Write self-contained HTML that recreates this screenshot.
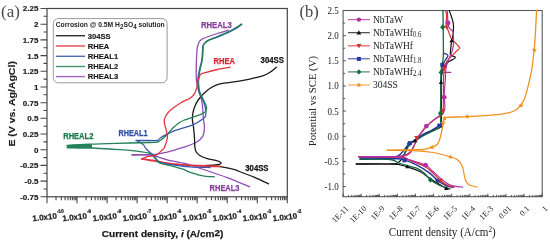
<!DOCTYPE html><html><head><meta charset="utf-8"><style>html,body{margin:0;padding:0;background:#fff;width:550px;height:242px;overflow:hidden}svg{display:block;filter:blur(0.3px)}</style></head><body>
<svg width="550" height="242" viewBox="0 0 550 242">
<rect width="550" height="242" fill="#fff"/>
<rect x="47.0" y="8.5" width="240.3" height="188.3" fill="none" stroke="#474747" stroke-width="1.2"/>
<path d="M40.5,8.5H47.0 M43.5,16.3H47.0 M40.5,24.2H47.0 M43.5,32.0H47.0 M40.5,39.9H47.0 M43.5,47.7H47.0 M40.5,55.6H47.0 M43.5,63.4H47.0 M40.5,71.3H47.0 M43.5,79.1H47.0 M40.5,87.0H47.0 M43.5,94.8H47.0 M40.5,102.7H47.0 M43.5,110.5H47.0 M40.5,118.3H47.0 M43.5,126.2H47.0 M40.5,134.0H47.0 M43.5,141.9H47.0 M40.5,149.7H47.0 M43.5,157.6H47.0 M40.5,165.4H47.0 M43.5,173.3H47.0 M40.5,181.1H47.0 M43.5,189.0H47.0 M40.5,196.8H47.0 M47.0,196.8V203.3 M56.0,196.8V200.3 M61.3,196.8V200.3 M65.1,196.8V200.3 M68.0,196.8V200.3 M70.4,196.8V200.3 M72.4,196.8V200.3 M74.1,196.8V200.3 M75.7,196.8V200.3 M77.0,196.8V203.3 M86.1,196.8V200.3 M91.4,196.8V200.3 M95.1,196.8V200.3 M98.0,196.8V200.3 M100.4,196.8V200.3 M102.4,196.8V200.3 M104.2,196.8V200.3 M105.7,196.8V200.3 M107.1,196.8V203.3 M116.1,196.8V200.3 M121.4,196.8V200.3 M125.2,196.8V200.3 M128.1,196.8V200.3 M130.4,196.8V200.3 M132.5,196.8V200.3 M134.2,196.8V200.3 M135.7,196.8V200.3 M137.1,196.8V203.3 M146.2,196.8V200.3 M151.4,196.8V200.3 M155.2,196.8V200.3 M158.1,196.8V200.3 M160.5,196.8V200.3 M162.5,196.8V200.3 M164.2,196.8V200.3 M165.8,196.8V200.3 M167.2,196.8V203.3 M176.2,196.8V200.3 M181.5,196.8V200.3 M185.2,196.8V200.3 M188.1,196.8V200.3 M190.5,196.8V200.3 M192.5,196.8V200.3 M194.3,196.8V200.3 M195.8,196.8V200.3 M197.2,196.8V203.3 M206.2,196.8V200.3 M211.5,196.8V200.3 M215.3,196.8V200.3 M218.2,196.8V200.3 M220.6,196.8V200.3 M222.6,196.8V200.3 M224.3,196.8V200.3 M225.9,196.8V200.3 M227.2,196.8V203.3 M236.3,196.8V200.3 M241.6,196.8V200.3 M245.3,196.8V200.3 M248.2,196.8V200.3 M250.6,196.8V200.3 M252.6,196.8V200.3 M254.4,196.8V200.3 M255.9,196.8V200.3 M257.3,196.8V203.3 M266.3,196.8V200.3 M271.6,196.8V200.3 M275.3,196.8V200.3 M278.3,196.8V200.3 M280.6,196.8V200.3 M282.6,196.8V200.3 M284.4,196.8V200.3 M285.9,196.8V200.3 M287.3,196.8V203.3" stroke="#474747" stroke-width="1.1" fill="none"/>
<g font-family="Liberation Sans, sans-serif" font-weight="bold" font-size="8" fill="#1e1e1e" stroke="#1e1e1e" stroke-width="0.18" text-anchor="end">
<text x="38.4" y="11.4">2.25</text>
<text x="38.4" y="27.1">2</text>
<text x="38.4" y="42.8">1.75</text>
<text x="38.4" y="58.5">1.5</text>
<text x="38.4" y="74.2">1.25</text>
<text x="38.4" y="89.9">1</text>
<text x="38.4" y="105.6">0.75</text>
<text x="38.4" y="121.2">0.5</text>
<text x="38.4" y="136.9">0.25</text>
<text x="38.4" y="152.6">0</text>
<text x="38.4" y="168.3">-0.25</text>
<text x="38.4" y="184.0">-0.5</text>
<text x="38.4" y="199.7">-0.75</text>
</g>
<g font-family="Liberation Sans, sans-serif" font-weight="bold" font-size="8" fill="#1e1e1e" stroke="#1e1e1e" stroke-width="0.25">
<text x="32.4" y="219.6" transform="rotate(-6.5 47.0 217)">1.0x10<tspan font-size="5" dx="0.4" dy="-5.2">-10</tspan></text>
<text x="62.4" y="219.6" transform="rotate(-6.5 77.0 217)">1.0x10<tspan font-size="5" dx="0.4" dy="-5.2">-9</tspan></text>
<text x="92.5" y="219.6" transform="rotate(-6.5 107.1 217)">1.0x10<tspan font-size="5" dx="0.4" dy="-5.2">-8</tspan></text>
<text x="122.5" y="219.6" transform="rotate(-6.5 137.1 217)">1.0x10<tspan font-size="5" dx="0.4" dy="-5.2">-7</tspan></text>
<text x="152.6" y="219.6" transform="rotate(-6.5 167.2 217)">1.0x10<tspan font-size="5" dx="0.4" dy="-5.2">-6</tspan></text>
<text x="182.6" y="219.6" transform="rotate(-6.5 197.2 217)">1.0x10<tspan font-size="5" dx="0.4" dy="-5.2">-5</tspan></text>
<text x="212.6" y="219.6" transform="rotate(-6.5 227.2 217)">1.0x10<tspan font-size="5" dx="0.4" dy="-5.2">-4</tspan></text>
<text x="242.7" y="219.6" transform="rotate(-6.5 257.3 217)">1.0x10<tspan font-size="5" dx="0.4" dy="-5.2">-3</tspan></text>
<text x="272.7" y="219.6" transform="rotate(-6.5 287.3 217)">1.0x10<tspan font-size="5" dx="0.4" dy="-5.2">-2</tspan></text>
</g>
<text font-family="Liberation Sans, sans-serif" font-weight="bold" font-size="8.8" fill="#1e1e1e" stroke="#1e1e1e" stroke-width="0.15" textLength="85.5" lengthAdjust="spacingAndGlyphs" transform="translate(14.6,146.6) rotate(-90)">E (V vs. Ag/AgCl)</text>
<text font-family="Liberation Sans, sans-serif" font-weight="bold" font-size="9.7" fill="#1a1a1a" stroke="#1a1a1a" stroke-width="0.25" x="101.8" y="236.8" textLength="121.5" lengthAdjust="spacingAndGlyphs">Current density, <tspan font-style="italic">i</tspan> (A/cm<tspan font-size="9.5" dy="-0.8">2</tspan><tspan dy="0.8">)</tspan></text>
<text font-family="Liberation Serif, serif" font-size="17" fill="#4a4a4a" x="1" y="17.3">(a)</text>
<rect x="53.3" y="18.6" width="113.8" height="64.2" rx="5" ry="5" fill="#fff" stroke="#9a9a9a" stroke-width="1"/>
<text font-family="Liberation Sans, sans-serif" font-weight="bold" font-size="7.1" fill="#222" x="55.7" y="27.4" textLength="109" lengthAdjust="spacingAndGlyphs">Corrosion @ 0.5M H<tspan font-size="6.5" dy="1.5">2</tspan><tspan dy="-1.5">SO</tspan><tspan font-size="6.5" dy="1.5">4</tspan><tspan dy="-1.5"> solution</tspan></text>
<path d="M55.8,35.7H85" stroke="#1a1a1a" stroke-width="1.4" opacity="0.9"/>
<text font-family="Liberation Sans, sans-serif" font-weight="bold" font-size="7.6" fill="#1a1a1a" stroke="#1a1a1a" stroke-width="0.15" x="87.8" y="38.5">304SS</text>
<path d="M55.8,46.0H85" stroke="#e4323d" stroke-width="1.4" opacity="0.9"/>
<text font-family="Liberation Sans, sans-serif" font-weight="bold" font-size="7.6" fill="#1a1a1a" stroke="#1a1a1a" stroke-width="0.15" x="87.8" y="48.8">RHEA</text>
<path d="M55.8,56.3H85" stroke="#3c5db4" stroke-width="1.4" opacity="0.9"/>
<text font-family="Liberation Sans, sans-serif" font-weight="bold" font-size="7.6" fill="#1a1a1a" stroke="#1a1a1a" stroke-width="0.15" x="87.8" y="59.1">RHEAL1</text>
<path d="M55.8,66.5H85" stroke="#2a8a5c" stroke-width="1.4" opacity="0.9"/>
<text font-family="Liberation Sans, sans-serif" font-weight="bold" font-size="7.6" fill="#1a1a1a" stroke="#1a1a1a" stroke-width="0.15" x="87.8" y="69.3">RHEAL2</text>
<path d="M55.8,76.6H85" stroke="#9a55bd" stroke-width="1.4" opacity="0.9"/>
<text font-family="Liberation Sans, sans-serif" font-weight="bold" font-size="7.6" fill="#1a1a1a" stroke="#1a1a1a" stroke-width="0.15" x="87.8" y="79.4">RHEAL3</text>
<path d="M228.2,30.2 C226.4,30.8 221.2,32.2 217.3,33.5 C213.4,34.8 207.4,36.8 204.5,38.0 C201.6,39.2 201.1,39.6 200.0,40.7 C198.9,41.8 198.7,43.2 198.2,44.4 C197.7,45.6 197.4,46.2 197.2,48.0 C196.9,49.8 196.8,52.7 196.7,55.0 C196.6,57.3 196.5,58.8 196.4,61.8 C196.3,64.8 196.2,69.3 196.2,72.7 C196.2,76.1 196.2,79.0 196.6,82.0 C197.0,85.0 198.0,88.0 198.8,91.0 C199.6,94.0 200.9,96.8 201.6,100.0 C202.3,103.2 202.5,106.6 202.8,109.9 C203.1,113.2 203.2,117.3 203.5,119.8 C203.8,122.3 204.2,123.3 204.3,125.0 C204.4,126.7 204.6,128.1 204.3,130.0 C204.0,131.9 203.9,134.4 202.7,136.4 C201.5,138.4 200.0,140.1 197.3,141.8 C194.6,143.5 190.4,145.0 186.4,146.4 C182.4,147.8 177.8,149.1 173.6,150.3 C169.3,151.5 164.8,152.7 160.9,153.4 C157.0,154.2 154.8,154.6 150.0,154.8 C145.2,155.0 134.9,154.8 131.9,154.8" fill="none" stroke="#8f4cb5" stroke-width="1.3" stroke-linejoin="round" stroke-linecap="round"/>
<path d="M131.9,154.8 C135.1,154.9 145.1,154.3 151.0,155.2 C156.9,156.0 161.0,158.4 167.2,159.9 C173.4,161.4 182.9,163.0 188.2,164.3 C193.5,165.7 192.6,165.8 199.0,168.0 C205.4,170.2 218.0,174.2 226.4,177.3 C234.8,180.4 245.8,185.2 249.7,186.8" fill="none" stroke="#8f4cb5" stroke-width="1.3" stroke-linejoin="round" stroke-linecap="round"/>
<path d="M276.4,67.2 C275.3,68.0 272.3,70.8 270.0,72.3 C267.7,73.8 265.4,74.9 262.7,75.9 C260.0,76.9 256.6,77.5 253.6,78.2 C250.6,78.9 247.5,79.6 244.5,80.2 C241.5,80.8 238.5,81.2 235.5,81.6 C232.5,82.0 229.2,82.4 226.4,82.8 C223.7,83.2 221.4,83.3 219.0,84.1 C216.6,84.8 214.2,85.9 211.8,87.3 C209.4,88.7 206.8,90.6 204.5,92.7 C202.2,94.8 199.9,97.6 198.2,100.0 C196.5,102.4 195.4,104.9 194.5,107.3 C193.6,109.7 193.0,112.4 192.7,114.5 C192.3,116.6 192.3,117.9 192.4,120.0 C192.5,122.1 193.2,124.3 193.5,127.3 C193.8,130.3 194.3,134.8 194.5,138.2 C194.7,141.5 194.6,145.1 194.9,147.4 C195.2,149.7 195.3,150.5 196.1,151.8 C196.9,153.2 197.9,154.4 199.8,155.5 C201.7,156.6 204.6,157.8 207.3,158.6 C210.0,159.4 213.6,159.7 215.9,160.4 C218.2,161.1 220.3,161.9 220.9,162.6 C221.5,163.3 220.8,164.0 219.3,164.4 C217.8,164.8 214.2,165.0 212.0,165.2 C209.8,165.4 207.0,165.4 206.0,165.5" fill="none" stroke="#1a1a1a" stroke-width="1.3" stroke-linejoin="round" stroke-linecap="round"/>
<path d="M206.0,165.6 C207.9,165.7 213.7,165.8 217.2,166.2 C220.7,166.6 224.2,167.3 227.1,167.9 C230.0,168.5 231.8,168.8 234.5,169.7 C237.2,170.5 239.8,171.7 243.2,173.0 C246.6,174.3 250.5,175.6 254.7,177.4 C258.9,179.2 266.2,182.8 268.5,183.9" fill="none" stroke="#1a1a1a" stroke-width="1.3" stroke-linejoin="round" stroke-linecap="round"/>
<path d="M141.8,158.9 C143.2,159.1 147.3,159.8 150.0,160.2 C152.7,160.6 155.4,160.9 157.9,161.4 C160.4,161.9 162.6,162.6 165.0,163.0 C167.4,163.4 169.8,163.6 172.3,163.9 C174.8,164.2 177.1,164.3 180.0,164.6 C182.9,164.8 185.8,165.2 190.0,165.4 C194.2,165.6 200.1,165.8 205.0,166.0 C209.9,166.2 217.2,166.3 219.7,166.4" fill="none" stroke="#e4323d" stroke-width="1.9" stroke-linejoin="round" stroke-linecap="round"/>
<path d="M241.8,24.4 C241.1,24.9 239.3,26.4 237.3,27.6 C235.3,28.8 233.3,30.0 230.0,31.6 C226.7,33.2 220.9,35.6 217.3,37.1 C213.7,38.6 210.5,39.5 208.2,40.7 C205.9,41.9 204.5,43.3 203.6,44.4 C202.7,45.5 202.9,45.9 202.7,47.3 C202.5,48.7 202.6,50.6 202.4,52.7 C202.2,54.8 202.2,57.6 201.8,60.0 C201.4,62.4 200.6,64.6 200.0,67.3 C199.4,70.0 198.6,73.6 198.2,76.4 C197.8,79.2 197.7,81.4 197.8,84.0 C197.9,86.6 198.2,89.3 199.0,92.0 C199.8,94.7 201.8,97.4 202.8,100.0 C203.9,102.6 204.8,105.1 205.3,107.4 C205.8,109.7 206.0,111.9 205.9,113.6 C205.8,115.2 205.7,116.1 204.7,117.3 C203.7,118.5 201.6,119.8 199.7,121.0 C197.8,122.2 196.3,123.5 193.5,124.7 C190.7,125.9 186.3,127.0 182.7,128.2 C179.1,129.4 175.1,130.4 171.8,131.8 C168.5,133.2 165.0,135.1 162.7,136.4 C160.4,137.7 159.1,139.1 158.2,139.8 C157.2,140.5 159.2,140.4 157.0,140.5 C154.8,140.6 148.5,140.5 145.0,140.5 C141.5,140.5 137.6,140.5 136.1,140.5" fill="none" stroke="#3a58b0" stroke-width="1.3" stroke-linejoin="round" stroke-linecap="round"/>
<path d="M136.1,140.5 C136.5,140.7 137.4,140.7 138.6,141.4 C139.8,142.1 142.3,143.7 143.5,144.9 C144.7,146.1 145.0,147.4 146.0,148.6 C147.0,149.8 148.4,151.2 149.7,152.3 C150.9,153.4 152.3,153.8 153.5,155.0 C154.7,156.2 155.6,158.1 156.6,159.3 C157.6,160.5 158.1,161.3 159.5,162.0 C160.9,162.7 163.1,163.2 165.0,163.6 C166.9,164.0 168.2,164.3 170.7,164.7 C173.2,165.1 176.8,165.5 180.0,165.8 C183.2,166.2 185.0,166.5 190.0,166.8 C195.0,167.1 206.7,167.4 210.0,167.5" fill="none" stroke="#3a58b0" stroke-width="1.3" stroke-linejoin="round" stroke-linecap="round"/>
<path d="M241.4,24.0 C240.7,24.5 238.8,25.8 236.9,27.0 C235.0,28.2 233.1,29.4 229.8,31.0 C226.5,32.6 220.9,35.0 217.3,36.5 C213.7,38.0 210.6,38.9 208.4,40.1 C206.2,41.3 205.0,42.8 204.1,43.9 C203.2,45.0 203.4,45.5 203.2,47.0 C203.0,48.5 203.1,50.5 202.9,52.7 C202.8,54.9 202.7,57.6 202.3,60.0 C201.9,62.4 201.2,64.6 200.6,67.3 C200.0,70.0 199.2,73.6 198.9,76.4 C198.6,79.2 198.4,81.4 198.6,84.0 C198.8,86.6 199.0,89.3 199.8,92.0 C200.6,94.7 202.5,97.8 203.5,100.0 C204.5,102.2 205.4,103.5 205.9,104.9 C206.4,106.3 206.8,107.4 206.6,108.6 C206.4,109.8 205.8,111.3 204.7,112.3 C203.5,113.3 201.8,114.0 199.7,114.8 C197.6,115.6 194.8,116.5 192.3,117.3 C189.8,118.1 187.1,118.9 184.9,119.8 C182.7,120.7 181.1,121.3 179.1,122.7 C177.1,124.1 174.7,126.2 172.7,128.2 C170.7,130.2 169.3,132.5 167.3,134.5 C165.3,136.5 162.6,138.7 160.9,140.0 C159.2,141.3 159.0,141.8 157.2,142.2 C155.4,142.6 154.5,142.4 150.0,142.5 C145.5,142.6 138.3,142.8 130.0,143.0 C121.7,143.2 106.7,143.6 100.0,143.8 C93.3,144.0 93.7,144.0 90.0,144.2 C86.3,144.4 81.8,144.6 78.0,144.8 C74.2,145.0 68.8,145.3 67.0,145.4" fill="none" stroke="#24825a" stroke-width="1.3" stroke-linejoin="round" stroke-linecap="round"/>
<path d="M67.0,147.6 C69.2,147.6 75.8,147.7 80.0,147.8 C84.2,147.9 87.0,147.8 92.0,148.0 C97.0,148.2 103.7,148.6 110.0,149.0 C116.3,149.4 123.6,149.7 130.0,150.4 C136.4,151.1 144.6,152.0 148.6,153.1 C152.6,154.2 152.4,155.5 154.0,157.0 C155.6,158.5 156.6,161.0 158.3,162.2 C160.0,163.4 161.9,163.6 164.0,164.2 C166.1,164.8 168.7,165.2 170.7,165.7 C172.7,166.2 173.9,166.6 176.0,167.2 C178.1,167.8 180.8,168.4 183.0,169.2 C185.2,170.0 187.1,171.3 189.5,172.2 C191.9,173.1 194.8,173.8 197.3,174.5 C199.8,175.2 201.6,175.8 204.5,176.2 C207.4,176.6 212.8,176.7 214.5,176.8" fill="none" stroke="#24825a" stroke-width="1.3" stroke-linejoin="round" stroke-linecap="round"/>
<path d="M230.0,67.2 C227.9,67.6 221.2,68.7 217.3,69.5 C213.4,70.3 209.1,71.5 206.4,72.3 C203.7,73.1 202.1,73.2 200.9,74.1 C199.7,75.0 199.6,76.4 199.0,77.7 C198.4,79.0 197.9,80.4 197.6,82.0 C197.2,83.6 197.4,85.4 196.9,87.3 C196.4,89.2 195.7,91.8 194.5,93.6 C193.3,95.4 192.3,96.7 190.0,98.2 C187.7,99.7 183.8,101.0 180.9,102.7 C178.0,104.4 174.8,106.8 172.5,108.6 C170.2,110.4 168.6,111.8 167.3,113.6 C166.0,115.3 165.0,117.4 164.5,119.1 C164.0,120.8 164.2,121.6 164.5,123.6 C164.8,125.6 165.9,128.5 166.4,130.9 C166.9,133.3 167.6,135.5 167.3,138.2 C167.0,140.9 165.4,145.2 164.5,147.3 C163.6,149.4 162.6,149.5 161.6,150.5 C160.6,151.5 159.6,152.7 158.5,153.5 C157.4,154.3 156.7,155.1 154.8,155.6 C152.9,156.1 149.5,156.0 147.3,156.6 C145.1,157.2 142.7,158.5 141.8,158.9" fill="none" stroke="#e4323d" stroke-width="1.3" stroke-linejoin="round" stroke-linecap="round"/>
<path d="M67,145.2 L78,144.3 L90,144.0 L92,145 L92,148.2 L80,148.4 L67,148.2 Z" fill="#24825a"/>
<text font-family="Liberation Sans, sans-serif" font-weight="bold" font-size="8.3" fill="#873f9f" stroke="#873f9f" stroke-width="0.25" x="200.9" y="27.7" textLength="30.8" lengthAdjust="spacingAndGlyphs">RHEAL3</text>
<text font-family="Liberation Sans, sans-serif" font-weight="bold" font-size="8.3" fill="#dc2833" stroke="#dc2833" stroke-width="0.25" x="213.5" y="64.4" textLength="21.5" lengthAdjust="spacingAndGlyphs">RHEA</text>
<text font-family="Liberation Sans, sans-serif" font-weight="bold" font-size="8.3" fill="#141414" stroke="#141414" stroke-width="0.25" x="260.6" y="62.9" textLength="23.3" lengthAdjust="spacingAndGlyphs">304SS</text>
<text font-family="Liberation Sans, sans-serif" font-weight="bold" font-size="8.3" fill="#1d7649" stroke="#1d7649" stroke-width="0.25" x="63.2" y="139.0" textLength="30.2" lengthAdjust="spacingAndGlyphs">RHEAL2</text>
<text font-family="Liberation Sans, sans-serif" font-weight="bold" font-size="8.3" fill="#2c4cab" stroke="#2c4cab" stroke-width="0.25" x="118.5" y="136.1" textLength="29.1" lengthAdjust="spacingAndGlyphs">RHEAL1</text>
<text font-family="Liberation Sans, sans-serif" font-weight="bold" font-size="8.3" fill="#141414" stroke="#141414" stroke-width="0.25" x="245.3" y="171.2" textLength="23.2" lengthAdjust="spacingAndGlyphs">304SS</text>
<text font-family="Liberation Sans, sans-serif" font-weight="bold" font-size="8.3" fill="#873f9f" stroke="#873f9f" stroke-width="0.25" x="209.6" y="191.2" textLength="29.9" lengthAdjust="spacingAndGlyphs">RHEAL3</text>
<rect x="343.1" y="10.5" width="199.1" height="186.2" fill="none" stroke="#5a5a5a" stroke-width="1.1"/>
<path d="M343.1,23.1H345.1 M343.1,35.7H345.9 M343.1,48.2H345.1 M343.1,60.8H345.9 M343.1,73.4H345.1 M343.1,86.0H345.9 M343.1,98.6H345.1 M343.1,111.1H345.9 M343.1,123.7H345.1 M343.1,136.3H345.9 M343.1,148.9H345.1 M343.1,161.5H345.9 M343.1,174.1H345.1 M343.1,186.6H345.9 M343.1,196.7V193.7 M348.5,196.7V194.9 M351.7,196.7V194.9 M354.0,196.7V194.9 M355.8,196.7V194.9 M357.2,196.7V194.9 M358.4,196.7V194.9 M359.4,196.7V194.9 M360.4,196.7V194.9 M361.2,196.7V193.7 M366.6,196.7V194.9 M369.8,196.7V194.9 M372.1,196.7V194.9 M373.9,196.7V194.9 M375.3,196.7V194.9 M376.5,196.7V194.9 M377.5,196.7V194.9 M378.5,196.7V194.9 M379.3,196.7V193.7 M384.7,196.7V194.9 M387.9,196.7V194.9 M390.2,196.7V194.9 M392.0,196.7V194.9 M393.4,196.7V194.9 M394.6,196.7V194.9 M395.6,196.7V194.9 M396.6,196.7V194.9 M397.4,196.7V193.7 M402.8,196.7V194.9 M406.0,196.7V194.9 M408.3,196.7V194.9 M410.1,196.7V194.9 M411.5,196.7V194.9 M412.7,196.7V194.9 M413.7,196.7V194.9 M414.7,196.7V194.9 M415.5,196.7V193.7 M420.9,196.7V194.9 M424.1,196.7V194.9 M426.4,196.7V194.9 M428.2,196.7V194.9 M429.6,196.7V194.9 M430.8,196.7V194.9 M431.8,196.7V194.9 M432.8,196.7V194.9 M433.6,196.7V193.7 M439.0,196.7V194.9 M442.2,196.7V194.9 M444.5,196.7V194.9 M446.3,196.7V194.9 M447.7,196.7V194.9 M448.9,196.7V194.9 M449.9,196.7V194.9 M450.9,196.7V194.9 M451.7,196.7V193.7 M457.1,196.7V194.9 M460.3,196.7V194.9 M462.6,196.7V194.9 M464.4,196.7V194.9 M465.8,196.7V194.9 M467.0,196.7V194.9 M468.0,196.7V194.9 M469.0,196.7V194.9 M469.8,196.7V193.7 M475.2,196.7V194.9 M478.4,196.7V194.9 M480.7,196.7V194.9 M482.5,196.7V194.9 M483.9,196.7V194.9 M485.1,196.7V194.9 M486.1,196.7V194.9 M487.1,196.7V194.9 M487.9,196.7V193.7 M493.3,196.7V194.9 M496.5,196.7V194.9 M498.8,196.7V194.9 M500.6,196.7V194.9 M502.0,196.7V194.9 M503.2,196.7V194.9 M504.2,196.7V194.9 M505.2,196.7V194.9 M506.0,196.7V193.7 M511.4,196.7V194.9 M514.6,196.7V194.9 M516.9,196.7V194.9 M518.7,196.7V194.9 M520.1,196.7V194.9 M521.3,196.7V194.9 M522.3,196.7V194.9 M523.3,196.7V194.9 M524.1,196.7V193.7 M529.5,196.7V194.9 M532.7,196.7V194.9 M535.0,196.7V194.9 M536.8,196.7V194.9 M538.2,196.7V194.9 M539.4,196.7V194.9 M540.4,196.7V194.9 M541.4,196.7V194.9 M542.2,196.7V193.7" stroke="#444" stroke-width="0.9" fill="none"/>
<g font-family="Liberation Serif, serif" font-size="10" fill="#222" text-anchor="end">
<text transform="translate(338.8,13.9) scale(0.9,1)">2.5</text>
<text transform="translate(338.8,39.1) scale(0.9,1)">2.0</text>
<text transform="translate(338.8,64.2) scale(0.9,1)">1.5</text>
<text transform="translate(338.8,89.4) scale(0.9,1)">1.0</text>
<text transform="translate(338.8,114.5) scale(0.9,1)">0.5</text>
<text transform="translate(338.8,139.7) scale(0.9,1)">0.0</text>
<text transform="translate(338.8,164.9) scale(0.9,1)">-0.5</text>
<text transform="translate(338.8,190.0) scale(0.9,1)">-1.0</text>
</g>
<g font-family="Liberation Serif, serif" font-size="8.2" fill="#222" text-anchor="end">
<text transform="translate(347.1,207.3) rotate(-45)" x="0" y="2.6">1E-11</text>
<text transform="translate(365.2,207.3) rotate(-45)" x="0" y="2.6">1E-10</text>
<text transform="translate(383.3,207.3) rotate(-45)" x="0" y="2.6">1E-9</text>
<text transform="translate(401.4,207.3) rotate(-45)" x="0" y="2.6">1E-8</text>
<text transform="translate(419.5,207.3) rotate(-45)" x="0" y="2.6">1E-7</text>
<text transform="translate(437.6,207.3) rotate(-45)" x="0" y="2.6">1E-6</text>
<text transform="translate(455.7,207.3) rotate(-45)" x="0" y="2.6">1E-5</text>
<text transform="translate(473.8,207.3) rotate(-45)" x="0" y="2.6">1E-4</text>
<text transform="translate(491.9,207.3) rotate(-45)" x="0" y="2.6">1E-3</text>
<text transform="translate(510.0,207.3) rotate(-45)" x="0" y="2.6">0.01</text>
<text transform="translate(528.1,207.3) rotate(-45)" x="0" y="2.6">0.1</text>
<text transform="translate(546.2,207.3) rotate(-45)" x="0" y="2.6">1</text>
</g>
<text font-family="Liberation Serif, serif" font-size="11" fill="#222" textLength="90.2" lengthAdjust="spacingAndGlyphs" transform="translate(316.3,146.2) rotate(-90)">Potential vs SCE (V)</text>
<text font-family="Liberation Serif, serif" font-size="11.5" fill="#222" x="388.8" y="236.3" textLength="107" lengthAdjust="spacingAndGlyphs">Current density (A/cm<tspan font-size="7.5" dy="-4">2</tspan><tspan dy="4">)</tspan></text>
<text font-family="Liberation Serif, serif" font-size="16.5" fill="#444" x="299.5" y="16.6">(b)</text>
<path d="M348,19.6H369.8" stroke="#b4309e" stroke-width="1.1" opacity="0.85"/>
<circle cx="358.9" cy="19.6" r="2.2" fill="#b4309e"/>
<text font-family="Liberation Serif, serif" font-size="10.7" fill="#222" transform="translate(373.0,23.0) scale(0.89,1)">NbTaW</text>
<path d="M348,32.7H369.8" stroke="#111" stroke-width="1.1" opacity="0.85"/>
<path d="M358.9,30.3L361.3,34.4L356.5,34.4Z" fill="#111"/>
<text font-family="Liberation Serif, serif" font-size="10.7" fill="#222" transform="translate(373.0,36.1) scale(0.89,1)">NbTaWHf<tspan font-size="7.6" dy="0.8">0.6</tspan></text>
<path d="M348,45.8H369.8" stroke="#de2c2c" stroke-width="1.1" opacity="0.85"/>
<path d="M358.9,48.2L361.3,44.0L356.5,44.0Z" fill="#de2c2c"/>
<text font-family="Liberation Serif, serif" font-size="10.7" fill="#222" transform="translate(373.0,49.2) scale(0.89,1)">NbTaWHf</text>
<path d="M348,58.8H369.8" stroke="#24399c" stroke-width="1.1" opacity="0.85"/>
<rect x="356.9" y="56.9" width="4.0" height="4.0" fill="#24399c"/>
<text font-family="Liberation Serif, serif" font-size="10.7" fill="#222" transform="translate(373.0,62.2) scale(0.89,1)">NbTaWHf<tspan font-size="7.6" dy="0.8">1.8</tspan></text>
<path d="M348,71.9H369.8" stroke="#146a3e" stroke-width="1.1" opacity="0.85"/>
<path d="M358.9,69.3L361.3,71.9L358.9,74.6L356.5,71.9Z" fill="#146a3e"/>
<text font-family="Liberation Serif, serif" font-size="10.7" fill="#222" transform="translate(373.0,75.3) scale(0.89,1)">NbTaWHf<tspan font-size="7.6" dy="0.8">2.4</tspan></text>
<path d="M348,85.0H369.8" stroke="#f0901e" stroke-width="1.1" opacity="0.85"/>
<path d="M358.9,82.2 L359.6,84.0 L361.5,84.2 L360.1,85.4 L360.5,87.2 L358.9,86.2 L357.3,87.2 L357.7,85.4 L356.3,84.2 L358.2,84.0Z" fill="#f0901e"/>
<text font-family="Liberation Serif, serif" font-size="10.7" fill="#222" transform="translate(373.0,88.4) scale(0.89,1)">304SS</text>
<path d="M443.6,53.3 C444.1,53.4 446.0,53.7 446.7,54.2 C447.4,54.7 448.2,55.2 448.0,56.1 C447.8,57.0 446.3,58.4 445.5,59.8 C444.7,61.1 443.6,62.5 443.0,64.2 C442.4,65.9 442.1,67.4 441.8,70.0 C441.5,72.6 441.5,75.8 441.4,80.0 C441.3,84.2 441.3,90.0 441.3,95.0 C441.3,100.0 441.2,105.5 441.2,110.0 C441.2,114.5 441.5,119.6 441.4,122.0 C441.3,124.4 440.9,124.2 440.8,124.6" fill="none" stroke="#24399c" stroke-width="1.3" stroke-linejoin="round" stroke-linecap="round"/>
<path d="M449.2,10.5 C449.5,11.3 450.4,13.6 451.0,15.4 C451.6,17.2 452.5,19.7 452.9,21.6 C453.3,23.5 453.5,24.4 453.5,26.6 C453.5,28.8 453.3,32.7 453.0,35.0 C452.7,37.3 452.0,38.5 451.6,40.6 C451.2,42.7 451.1,45.4 450.9,47.4 C450.7,49.4 450.4,51.1 450.4,52.4 C450.3,53.7 449.8,54.2 450.6,55.0 C451.4,55.8 455.1,56.5 455.4,57.3 C455.7,58.1 453.4,59.1 452.3,59.8 C451.2,60.5 449.6,60.9 448.6,61.7 C447.6,62.5 447.2,63.1 446.1,64.8 C445.0,66.5 443.1,69.1 442.2,72.0 C441.3,74.9 441.2,78.5 441.0,82.3 C440.8,86.1 441.2,91.2 441.2,95.0 C441.2,98.8 441.1,102.0 441.0,105.0 C440.9,108.0 440.8,110.3 440.8,112.8 C440.8,115.3 440.9,117.7 441.0,120.0 C441.1,122.3 442.9,124.8 441.4,126.5 C439.9,128.2 435.4,129.1 432.2,130.5 C429.0,131.9 425.2,133.5 422.3,135.2 C419.4,136.9 417.1,139.1 414.9,140.6 C412.7,142.1 410.7,143.0 409.3,144.4 C407.9,145.8 407.2,147.4 406.3,149.2 C405.4,151.0 404.9,153.2 404.0,155.0 C403.1,156.8 402.1,158.7 401.0,160.0 C399.9,161.3 398.8,162.3 397.5,163.0 C396.2,163.7 398.0,163.8 393.4,163.9 C388.8,164.1 376.2,163.9 370.0,163.9 C363.8,163.9 358.5,163.9 356.2,163.9" fill="none" stroke="#111" stroke-width="1.2" stroke-linejoin="round" stroke-linecap="round"/>
<path d="M356.2,164.1 C362.4,164.1 385.8,163.9 393.4,164.1 C401.0,164.3 399.7,164.9 402.0,165.4 C404.3,165.9 404.4,165.9 407.4,166.9 C410.4,167.9 415.5,169.2 419.8,171.5 C424.1,173.8 429.4,178.2 433.0,180.5 C436.6,182.8 439.1,184.2 441.3,185.5 C443.5,186.8 444.8,187.7 446.2,188.3 C447.6,188.9 449.4,188.9 450.0,189.0" fill="none" stroke="#111" stroke-width="1.2" stroke-linejoin="round" stroke-linecap="round"/>
<path d="M443.0,10.5 C443.0,13.3 443.1,20.2 443.2,27.2 C443.3,34.2 443.4,47.0 443.4,52.4 C443.4,57.8 443.2,57.8 443.0,59.8 C442.8,61.8 442.3,62.4 442.0,64.5 C441.7,66.6 441.2,68.5 441.0,72.4 C440.8,76.3 441.1,81.3 441.0,88.0 C440.9,94.7 440.5,107.5 440.4,112.8 C440.3,118.1 440.6,117.7 440.6,120.0 C440.6,122.3 442.0,124.7 440.6,126.6 C439.2,128.5 435.1,129.8 432.0,131.4 C428.9,133.0 424.8,134.8 422.0,136.4 C419.2,138.0 417.1,139.9 415.0,141.2 C412.9,142.5 410.6,143.1 409.3,144.4 C408.0,145.7 408.1,147.3 407.2,149.0 C406.3,150.7 405.4,153.0 404.0,154.5 C402.6,156.0 401.3,157.1 399.0,157.8 C396.7,158.6 394.0,158.8 390.0,159.0 C386.0,159.2 380.0,159.1 375.0,159.1 C370.0,159.1 362.4,159.1 359.9,159.1" fill="none" stroke="#146a3e" stroke-width="1.3" stroke-linejoin="round" stroke-linecap="round"/>
<path d="M359.9,159.3 C364.9,159.3 383.3,158.8 390.0,159.5 C396.7,160.2 395.6,162.1 400.0,163.5 C404.4,164.9 412.5,166.6 416.5,168.2 C420.5,169.8 421.7,171.1 424.0,173.0 C426.3,174.9 427.9,177.6 430.5,179.7 C433.1,181.8 436.7,184.1 439.6,185.5 C442.5,186.9 446.5,187.6 447.9,188.0" fill="none" stroke="#146a3e" stroke-width="1.3" stroke-linejoin="round" stroke-linecap="round"/>
<path d="M441.4,122.0 C441.1,122.6 441.2,124.1 439.6,125.4 C438.0,126.7 434.9,128.4 432.0,130.0 C429.1,131.6 425.2,133.2 422.3,134.9 C419.4,136.6 417.1,138.5 414.9,139.9 C412.7,141.3 410.8,142.3 409.3,143.6 C407.8,144.9 407.2,146.0 406.0,147.5 C404.8,149.0 403.7,150.9 402.0,152.5 C400.3,154.1 399.7,156.0 396.0,156.8 C392.3,157.6 386.0,157.3 380.0,157.4 C374.0,157.5 363.3,157.6 360.0,157.6" fill="none" stroke="#24399c" stroke-width="1.4" stroke-linejoin="round" stroke-linecap="round"/>
<path d="M360.0,158.0 C365.8,158.1 387.6,158.2 395.0,158.5 C402.4,158.8 400.5,158.8 404.1,159.9 C407.7,161.0 412.2,162.7 416.5,164.9 C420.8,167.1 426.2,170.5 429.7,173.1 C433.2,175.7 434.8,178.4 437.5,180.5 C440.2,182.6 443.6,184.3 446.2,185.5 C448.8,186.7 451.7,187.2 452.8,187.6" fill="none" stroke="#24399c" stroke-width="1.4" stroke-linejoin="round" stroke-linecap="round"/>
<path d="M445.5,10.5 C445.7,11.3 446.6,13.3 446.7,15.4 C446.8,17.5 446.1,20.9 446.1,22.9 C446.1,24.9 446.3,25.8 446.7,27.2 C447.1,28.6 447.9,29.8 448.6,31.6 C449.3,33.4 450.2,36.4 451.0,38.0 C451.8,39.6 452.4,39.9 453.5,41.0 C454.6,42.1 456.3,43.7 457.3,44.9 C458.3,46.1 459.8,47.0 459.7,48.0 C459.6,49.0 457.6,50.1 456.6,51.1 C455.6,52.1 454.6,53.1 453.5,54.2 C452.4,55.4 450.9,56.8 449.8,58.0 C448.7,59.2 447.5,60.6 446.7,61.7 C445.9,62.8 445.3,63.6 444.9,64.8 C444.5,66.0 444.4,66.2 444.2,68.7 C444.0,71.2 443.6,74.8 443.5,80.0 C443.4,85.2 443.4,94.8 443.4,100.0 C443.3,105.2 443.3,108.6 443.2,111.0 C443.1,113.4 443.2,113.6 442.6,114.5 C442.0,115.4 441.3,115.2 439.8,116.2 C438.3,117.2 435.8,118.7 433.6,120.4 C431.4,122.1 428.3,124.6 426.4,126.5 C424.5,128.4 423.7,129.8 422.3,131.6 C420.9,133.4 419.2,135.1 418.0,137.2 C416.8,139.3 416.0,141.7 414.9,144.0 C413.8,146.3 412.6,149.4 411.3,151.3 C410.0,153.2 408.9,154.4 407.0,155.3 C405.1,156.2 404.5,156.3 400.0,156.5 C395.5,156.7 386.8,156.5 380.0,156.5 C373.2,156.5 362.5,156.5 359.0,156.5" fill="none" stroke="#de2c2c" stroke-width="1.2" stroke-linejoin="round" stroke-linecap="round"/>
<path d="M359.0,156.8 C365.8,156.9 392.1,156.7 400.0,157.1 C407.9,157.5 402.5,157.5 406.6,159.1 C410.7,160.7 420.4,164.2 424.8,166.5 C429.2,168.8 430.4,170.8 433.0,173.1 C435.6,175.4 437.9,178.4 440.4,180.5 C442.9,182.6 445.5,184.4 447.9,185.5 C450.2,186.6 453.4,186.8 454.5,187.1" fill="none" stroke="#de2c2c" stroke-width="1.2" stroke-linejoin="round" stroke-linecap="round"/>
<path d="M447.3,10.5 C447.4,11.4 447.5,13.9 447.6,16.0 C447.7,18.1 447.7,20.9 448.0,22.9 C448.3,24.9 448.4,26.5 449.2,27.9 C450.0,29.3 452.2,30.0 452.9,31.5 C453.6,33.0 453.3,35.6 453.4,37.0 C453.5,38.4 453.5,38.5 453.5,40.0 C453.5,41.5 453.6,44.1 453.3,46.2 C453.0,48.3 452.3,50.5 451.7,52.4 C451.1,54.2 450.4,55.9 449.8,57.3 C449.2,58.7 448.5,59.8 448.0,61.0 C447.5,62.2 447.1,63.3 446.7,64.8 C446.3,66.3 446.0,67.5 445.8,70.0 C445.6,72.5 445.5,76.7 445.3,80.0 C445.1,83.3 444.7,87.1 444.5,90.0 C444.3,92.9 444.1,94.5 444.2,97.3 C444.3,100.1 445.0,104.0 444.9,106.6 C444.8,109.2 444.5,111.3 443.6,112.8 C442.8,114.3 441.5,114.3 439.8,115.5 C438.1,116.7 435.8,118.1 433.6,119.9 C431.4,121.7 428.3,124.2 426.4,126.1 C424.5,128.0 423.7,129.4 422.3,131.2 C420.9,133.0 419.2,134.7 418.0,136.8 C416.8,138.9 416.0,141.4 414.9,143.6 C413.8,145.8 412.8,148.2 411.5,150.0 C410.2,151.8 408.8,153.3 407.0,154.3 C405.2,155.3 403.5,155.8 401.0,156.2 C398.5,156.6 395.5,156.6 392.0,156.7 C388.5,156.8 385.6,156.7 380.0,156.7 C374.4,156.7 362.2,156.7 358.7,156.7" fill="none" stroke="#b4309e" stroke-width="1.2" stroke-linejoin="round" stroke-linecap="round"/>
<path d="M358.7,157.0 C365.6,157.0 391.5,156.7 400.0,157.2 C408.5,157.7 405.6,158.6 409.9,159.9 C414.2,161.2 421.8,163.3 425.6,165.2 C429.5,167.1 430.4,169.2 433.0,171.5 C435.6,173.8 438.6,176.7 441.3,178.9 C444.1,181.1 446.8,183.4 449.5,184.7 C452.2,186.0 455.6,186.2 457.8,186.6 C460.0,187.0 461.9,187.0 462.7,187.1" fill="none" stroke="#b4309e" stroke-width="1.2" stroke-linejoin="round" stroke-linecap="round"/>
<path d="M444.5,72.4 C445.6,72.4 449.8,72.4 450.8,72.4" fill="none" stroke="#b4309e" stroke-width="1.2" stroke-linejoin="round" stroke-linecap="round"/>
<path d="M536.6,10.5 C536.4,13.8 535.9,24.2 535.6,30.0 C535.3,35.8 534.9,40.8 534.6,45.0 C534.3,49.2 534.1,50.9 533.6,55.0 C533.1,59.1 532.7,64.5 531.7,69.9 C530.8,75.3 529.1,82.2 527.9,87.2 C526.6,92.2 525.5,96.5 524.2,99.6 C522.9,102.7 521.9,104.0 520.0,106.0 C518.1,108.0 517.3,110.0 513.0,111.5 C508.7,113.0 502.0,114.1 494.4,114.9 C486.8,115.8 475.0,116.2 467.1,116.6 C459.2,117.0 451.0,117.0 447.3,117.3 C443.6,117.6 445.6,117.6 445.0,118.2 C444.4,118.8 444.2,119.7 443.8,121.0 C443.4,122.3 443.2,124.2 442.8,126.0 C442.4,127.8 442.0,129.7 441.5,132.0 C441.0,134.3 440.3,137.7 439.6,139.7 C438.9,141.7 438.5,142.9 437.3,144.2 C436.1,145.4 434.2,146.4 432.2,147.2 C430.1,148.0 427.1,148.7 425.0,149.1 C422.9,149.5 426.1,149.4 419.8,149.6 C413.5,149.8 392.6,150.1 387.2,150.2" fill="none" stroke="#f0901e" stroke-width="1.3" stroke-linejoin="round" stroke-linecap="round"/>
<path d="M387.2,150.4 C391.6,150.4 406.0,150.3 413.6,150.7 C421.2,151.0 426.9,151.5 433.0,152.5 C439.1,153.5 446.2,155.7 450.3,156.9 C454.4,158.1 455.8,158.4 457.8,159.9 C459.8,161.4 461.1,163.5 462.2,166.0 C463.3,168.5 463.6,172.2 464.2,174.8 C464.8,177.4 465.1,179.7 466.0,181.4 C466.9,183.1 467.5,183.9 469.3,184.9 C471.1,185.9 475.7,186.8 477.0,187.2" fill="none" stroke="#f0901e" stroke-width="1.2" stroke-linejoin="round" stroke-linecap="round"/>
<rect x="440.3" y="62.9" width="4.0" height="4.0" fill="#24399c"/>
<path d="M451.6,38.4L453.8,42.2L449.4,42.2Z" fill="#111"/>
<path d="M441.0,80.1L443.2,83.9L438.8,83.9Z" fill="#111"/>
<path d="M415.2,138.4L417.4,142.2L413.0,142.2Z" fill="#111"/>
<path d="M407.4,164.5L409.6,168.3L405.2,168.3Z" fill="#111"/>
<path d="M446.2,186.1L448.4,189.9L444.0,189.9Z" fill="#111"/>
<path d="M442.7,24.3L445.3,27.2L442.7,30.1L440.1,27.2Z" fill="#146a3e"/>
<path d="M441.2,69.5L443.8,72.4L441.2,75.3L438.6,72.4Z" fill="#146a3e"/>
<path d="M440.5,110.4L443.1,113.3L440.5,116.2L437.9,113.3Z" fill="#146a3e"/>
<path d="M409.3,140.9L411.9,143.8L409.3,146.7L406.7,143.8Z" fill="#146a3e"/>
<path d="M430.5,177.0L433.1,179.9L430.5,182.8L427.9,179.9Z" fill="#146a3e"/>
<rect x="437.3" y="123.6" width="4.0" height="4.0" fill="#24399c"/>
<rect x="407.8" y="141.2" width="4.0" height="4.0" fill="#24399c"/>
<rect x="402.4" y="158.3" width="4.0" height="4.0" fill="#24399c"/>
<rect x="435.5" y="178.7" width="4.0" height="4.0" fill="#24399c"/>
<path d="M446.6,29.6L449.0,25.4L444.2,25.4Z" fill="#de2c2c"/>
<path d="M444.2,71.1L446.6,66.9L441.8,66.9Z" fill="#de2c2c"/>
<path d="M443.0,113.1L445.4,108.9L440.6,108.9Z" fill="#de2c2c"/>
<path d="M416.5,140.1L418.9,135.9L414.1,135.9Z" fill="#de2c2c"/>
<path d="M440.4,182.9L442.8,178.7L438.0,178.7Z" fill="#de2c2c"/>
<circle cx="448.0" cy="22.9" r="2.4" fill="#b4309e"/>
<circle cx="444.2" cy="97.3" r="2.4" fill="#b4309e"/>
<circle cx="426.4" cy="126.1" r="2.4" fill="#b4309e"/>
<circle cx="425.6" cy="165.2" r="2.4" fill="#b4309e"/>
<path d="M534.3,47.2 L535.0,49.0 L536.9,49.2 L535.5,50.4 L535.9,52.2 L534.3,51.2 L532.7,52.2 L533.1,50.4 L531.7,49.2 L533.6,49.0Z" fill="#f0901e"/>
<path d="M521.0,102.8 L521.7,104.5 L523.6,104.7 L522.2,105.9 L522.6,107.7 L521.0,106.7 L519.4,107.7 L519.8,105.9 L518.4,104.7 L520.3,104.5Z" fill="#f0901e"/>
<path d="M467.3,113.8 L468.0,115.6 L469.9,115.8 L468.5,117.0 L468.9,118.8 L467.3,117.8 L465.7,118.8 L466.1,117.0 L464.7,115.8 L466.6,115.6Z" fill="#f0901e"/>
<path d="M444.6,115.5 L445.3,117.2 L447.2,117.4 L445.8,118.6 L446.2,120.4 L444.6,119.4 L443.0,120.4 L443.4,118.6 L442.0,117.4 L443.9,117.2Z" fill="#f0901e"/>
<path d="M443.0,120.3 L443.7,122.1 L445.6,122.3 L444.2,123.5 L444.6,125.3 L443.0,124.3 L441.4,125.3 L441.8,123.5 L440.4,122.3 L442.3,122.1Z" fill="#f0901e"/>
<path d="M432.2,144.4 L432.9,146.2 L434.8,146.4 L433.4,147.6 L433.8,149.4 L432.2,148.4 L430.6,149.4 L431.0,147.6 L429.6,146.4 L431.5,146.2Z" fill="#f0901e"/>
<path d="M450.3,154.2 L451.0,155.9 L452.9,156.1 L451.5,157.3 L451.9,159.1 L450.3,158.1 L448.7,159.1 L449.1,157.3 L447.7,156.1 L449.6,155.9Z" fill="#f0901e"/>
</svg></body></html>
